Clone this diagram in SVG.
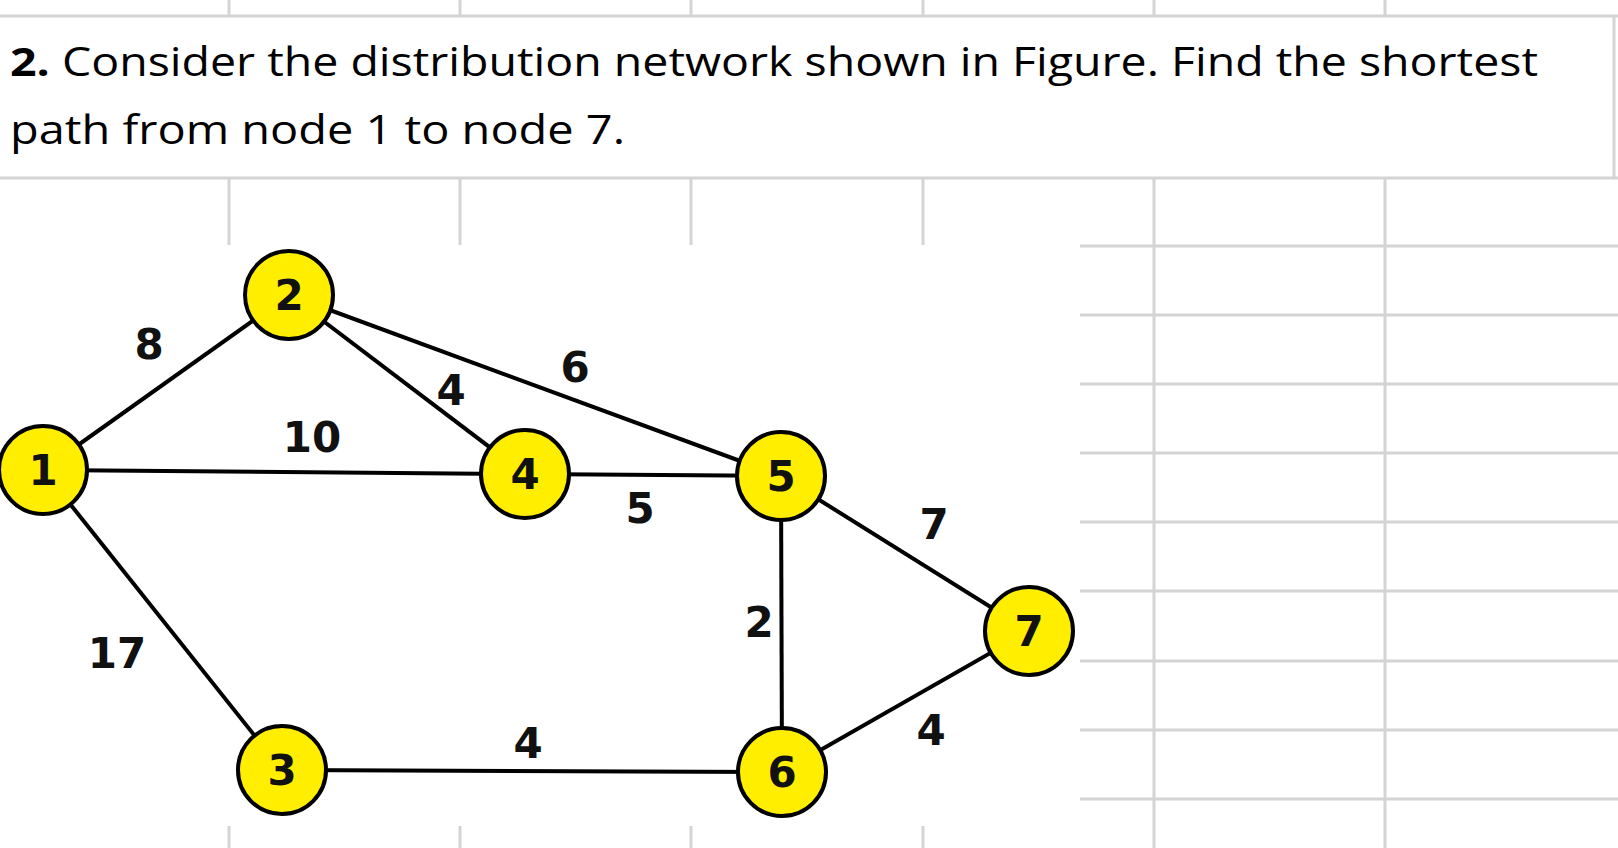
<svg xmlns="http://www.w3.org/2000/svg" width="1618" height="848" viewBox="0 0 1618 848">
<style>
.g{stroke:#d4d4d4;stroke-width:3;fill:none}
.e{stroke:#000;stroke-width:4;fill:none}
.n{fill:#ffee00;stroke:#000;stroke-width:4}
.t{font-family:"Open Sans","Liberation Sans",sans-serif;font-size:40px;fill:#000}
.l{font-family:"DejaVu Sans",sans-serif;font-weight:bold;font-size:42px;fill:#111;text-anchor:middle;dominant-baseline:central}
</style>
<rect width="1618" height="848" fill="#fff"/>
<g id="grid">
<path class="g" d="M0 16H1618M0 178H1618M1614 16V178"/>
<path class="g" d="M229 0V16M460 0V16M691 0V16M923 0V16M1154 0V16M1385 0V16"/>
<path class="g" d="M229 178V245M460 178V245M691 178V245M923 178V245M1154 178V848M1385 178V848"/>
<path class="g" d="M1080 246H1618M1080 315H1618M1080 384H1618M1080 453H1618M1080 522H1618M1080 591H1618M1080 661H1618M1080 730H1618M1080 799H1618"/>
<path class="g" d="M229 826V848M460 826V848M691 826V848M923 826V848"/>
</g>
<g id="title">
<text class="t" x="10" y="76" textLength="1528" lengthAdjust="spacingAndGlyphs"><tspan font-weight="bold">2.</tspan> Consider the distribution network shown in Figure. Find the shortest</text>
<text class="t" x="10" y="144" textLength="615" lengthAdjust="spacingAndGlyphs">path from node 1 to node 7.</text>
</g>
<g id="connectors">
<line class="e" x1="43" y1="470" x2="289" y2="295"/>
<line class="e" x1="43" y1="470" x2="525" y2="474"/>
<line class="e" x1="43" y1="470" x2="282" y2="770"/>
<line class="e" x1="289" y1="295" x2="525" y2="474"/>
<line class="e" x1="289" y1="295" x2="781" y2="476"/>
<line class="e" x1="525" y1="474" x2="781" y2="476"/>
<line class="e" x1="781" y1="476" x2="782" y2="772"/>
<line class="e" x1="781" y1="476" x2="1029" y2="631"/>
<line class="e" x1="282" y1="770" x2="782" y2="772"/>
<line class="e" x1="782" y1="772" x2="1029" y2="631"/>
</g>
<g id="edge-labels">
<text class="l" x="149" y="344">8</text>
<text class="l" x="312" y="437">10</text>
<text class="l" x="451" y="390">4</text>
<text class="l" x="575" y="367">6</text>
<text class="l" x="640" y="508">5</text>
<text class="l" x="934" y="524">7</text>
<text class="l" x="759" y="622">2</text>
<text class="l" x="117" y="653">17</text>
<text class="l" x="528" y="743">4</text>
<text class="l" x="931" y="730">4</text>
</g>
<g id="node1"><circle class="n" cx="43" cy="470" r="44"/><text class="l" x="43" y="470">1</text></g>
<g id="node2"><circle class="n" cx="289" cy="295" r="44"/><text class="l" x="289" y="295">2</text></g>
<g id="node3"><circle class="n" cx="282" cy="770" r="44"/><text class="l" x="282" y="770">3</text></g>
<g id="node4"><circle class="n" cx="525" cy="474" r="44"/><text class="l" x="525" y="474">4</text></g>
<g id="node5"><circle class="n" cx="781" cy="476" r="44"/><text class="l" x="781" y="476">5</text></g>
<g id="node6"><circle class="n" cx="782" cy="772" r="44"/><text class="l" x="782" y="772">6</text></g>
<g id="node7"><circle class="n" cx="1029" cy="631" r="44"/><text class="l" x="1029" y="631">7</text></g>
</svg>
